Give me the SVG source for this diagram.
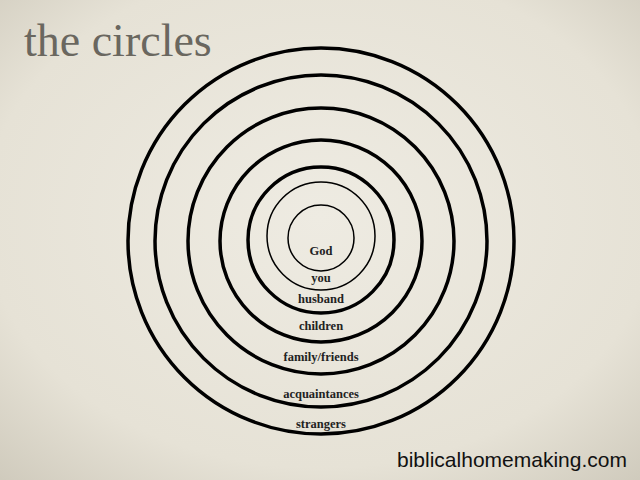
<svg xmlns="http://www.w3.org/2000/svg" width="640" height="480" viewBox="0 0 640 480">
<defs>
<radialGradient id="bg" cx="50%" cy="45%" r="75%">
<stop offset="0" stop-color="#eeebe2"/>
<stop offset="0.7" stop-color="#e6e2d6"/>
<stop offset="1" stop-color="#cfcabc"/>
</radialGradient>
</defs>
<style>
.c{fill:none;stroke:#000}
.thin{stroke-width:1.5}
.thick{stroke-width:3.5}
.l{font-family:"Liberation Serif",serif;font-weight:bold;font-size:12.5px;fill:#222;text-anchor:middle}
</style>
<rect width="640" height="480" fill="url(#bg)"/>
<text x="24" y="56" font-family="Liberation Serif,serif" font-size="46" fill="#6a675f">the circles</text>
<g id="strangers"><circle class="c thick" cx="321" cy="241" r="193"/><text class="l" x="321" y="428">strangers</text></g>
<g id="acquaintances"><circle class="c thick" cx="321" cy="241" r="166"/><text class="l" x="321" y="398">acquaintances</text></g>
<g id="family"><circle class="c thick" cx="321" cy="241" r="133"/><text class="l" x="321" y="361">family/friends</text></g>
<g id="children"><circle class="c thick" cx="321" cy="241" r="101"/><text class="l" x="321" y="330">children</text></g>
<g id="husband"><circle class="c thick" cx="321" cy="240" r="73"/><text class="l" x="321" y="303">husband</text></g>
<g id="you"><circle class="c thin" cx="321" cy="236" r="54"/><text class="l" x="321" y="282">you</text></g>
<g id="god"><circle class="c thin" cx="321" cy="238" r="33"/><text class="l" x="321" y="255">God</text></g>
<g id="connectors"/>
<text x="397" y="467" font-family="Liberation Sans,sans-serif" font-size="21" fill="#111">biblicalhomemaking.com</text>
</svg>
